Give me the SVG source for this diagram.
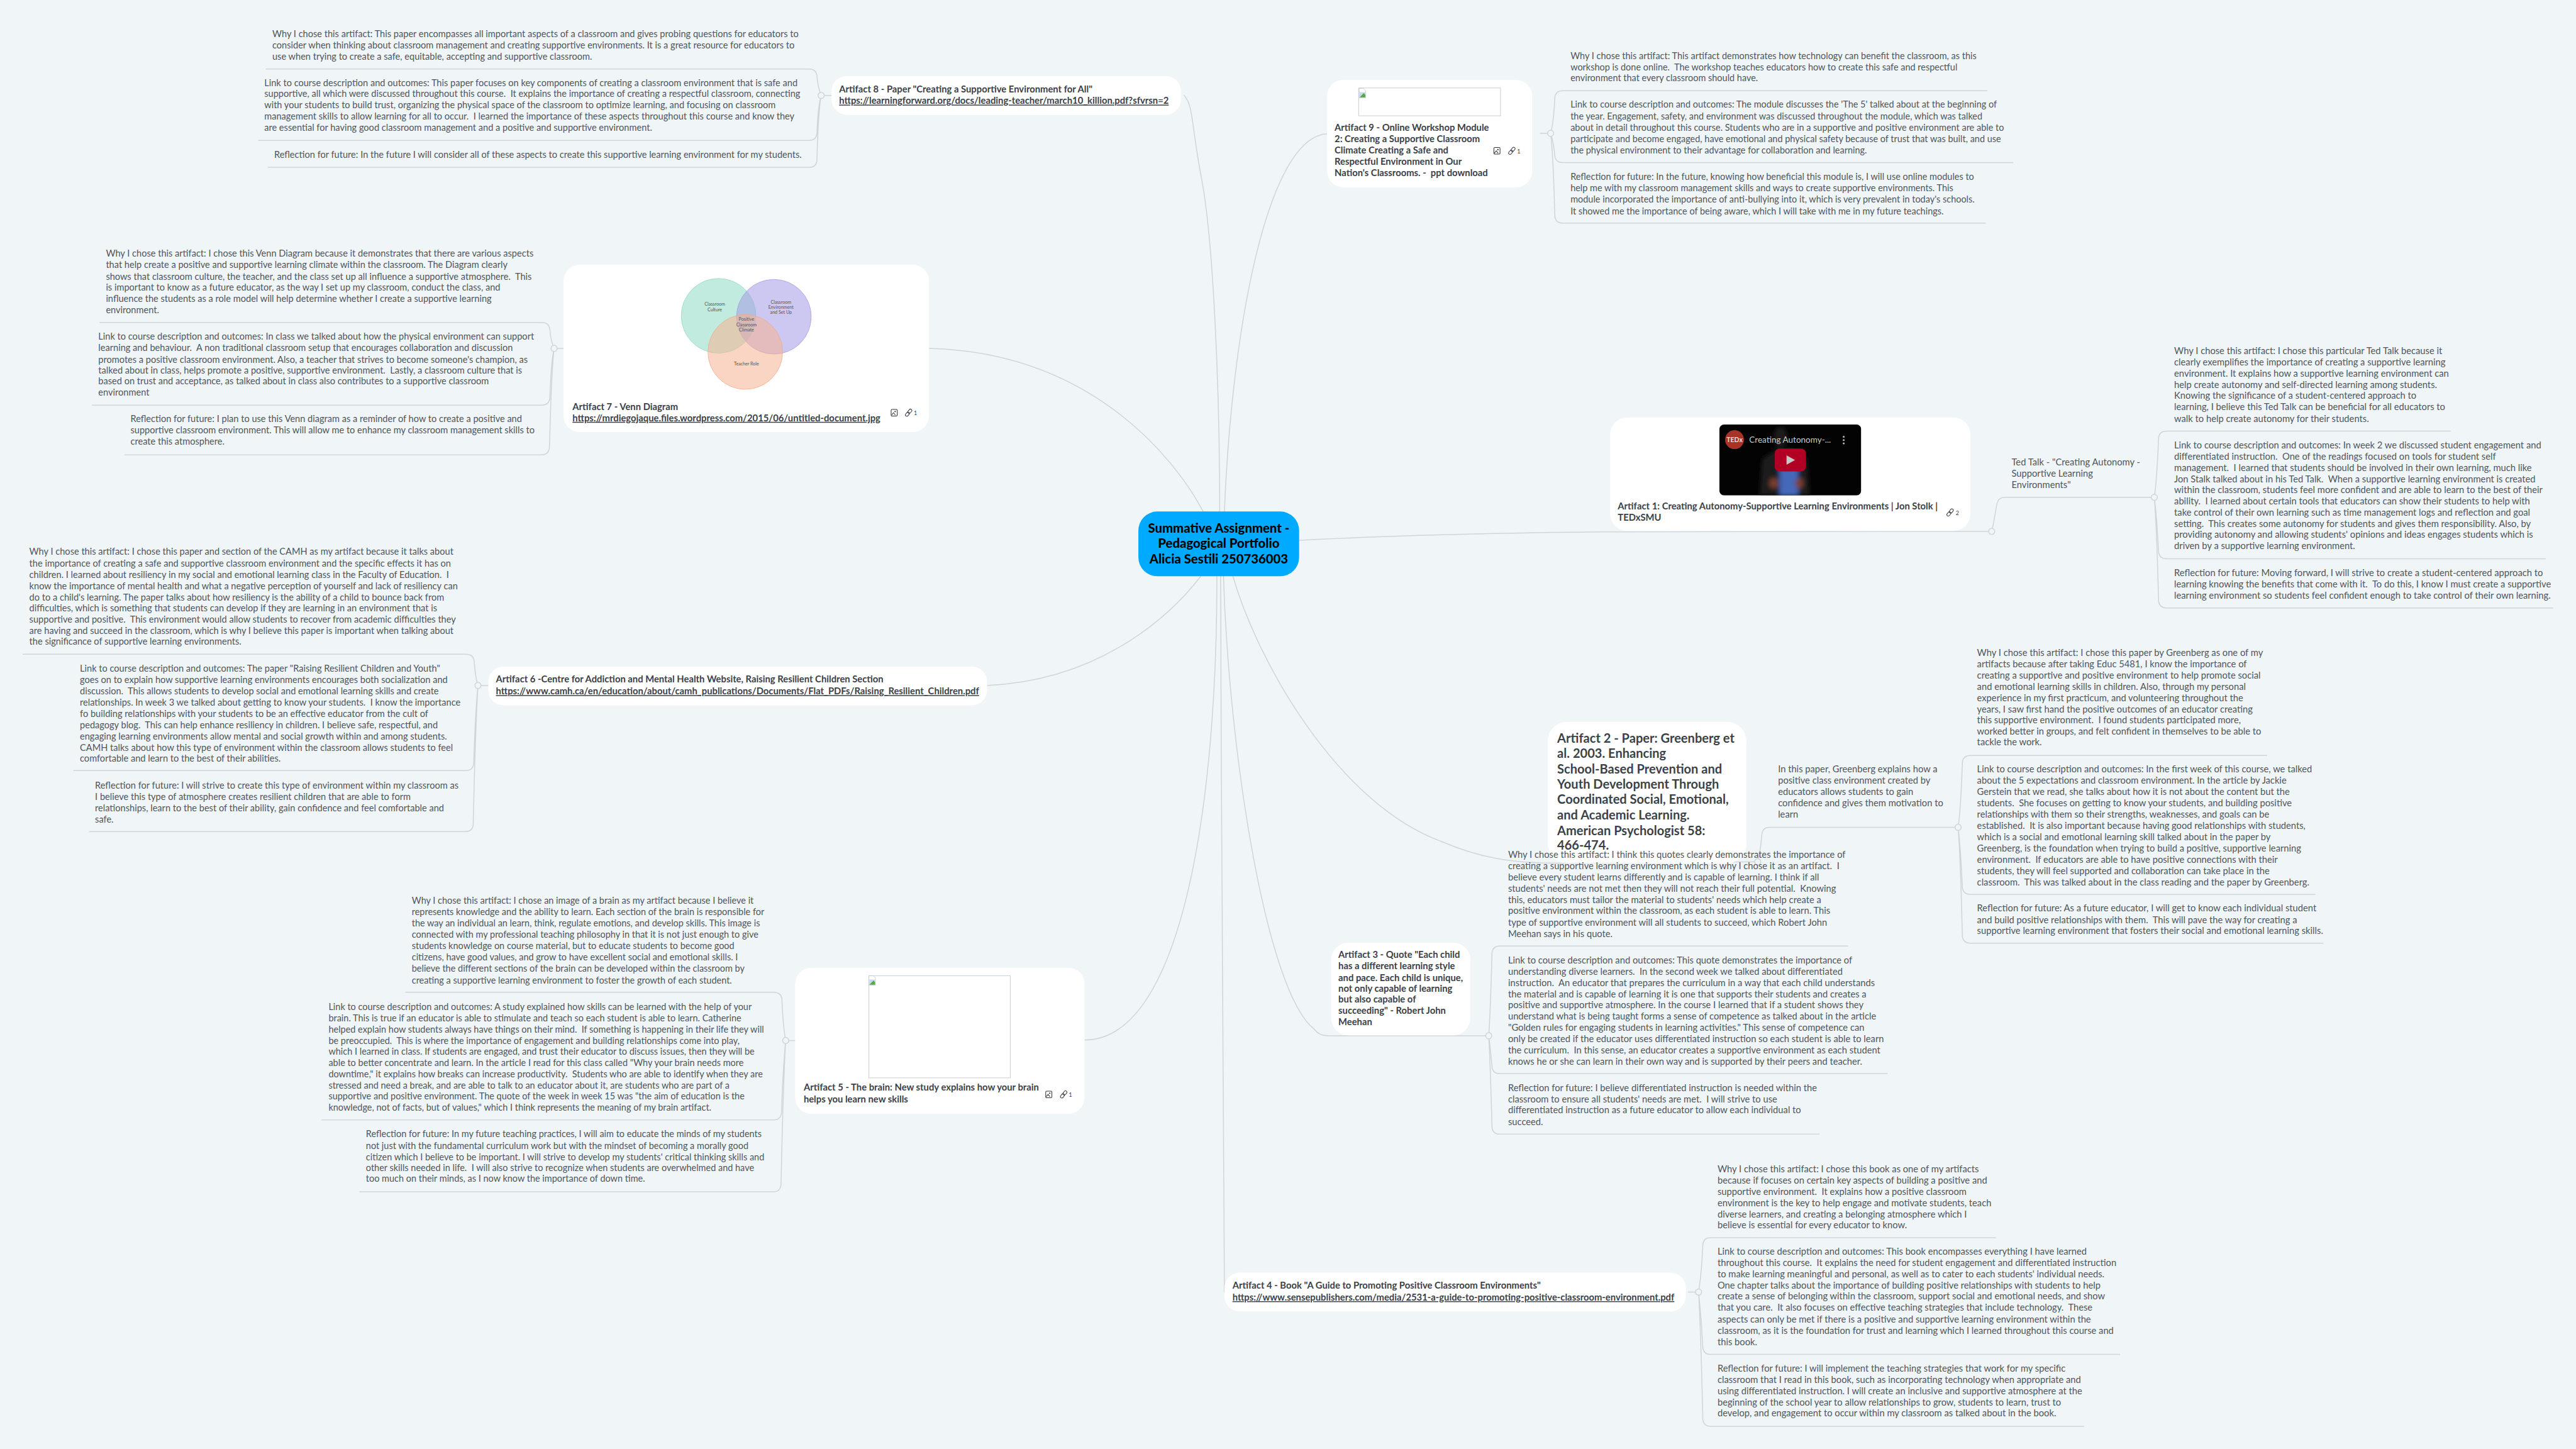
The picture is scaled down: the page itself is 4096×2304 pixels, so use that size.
<svg xmlns="http://www.w3.org/2000/svg" width="4096" height="2304" viewBox="0 0 4096 2304">
<style>
text{font-family:"Lato","Noto Sans","Liberation Sans",sans-serif;white-space:pre}
.t{font-size:19.4px;fill:#4f555b}
[id^=a1-] .t,[id^=a2-] .t,[id^=a3-] .t,[id^=a4-] .t{font-size:19.6px}
[id^=a5-] .t,[id^=a9-] .t{font-size:19.25px}
.b{font-size:19.7px;font-weight:700;fill:#3b4148}
.u{text-decoration:underline}
.big{font-size:26.7px;font-weight:700;fill:#3b4148}
.root{font-size:27px;font-weight:900;fill:#050505;text-anchor:middle}
.cnt{font-size:12px;fill:#3b4148}
.v{font-size:9.5px;fill:#555;text-anchor:middle}
.card{fill:#fff}
.ln{fill:none;stroke:#cfd5d9;stroke-width:2;stroke-linecap:round}
.dot{fill:#f0f5f8;stroke:#cfd5d9;stroke-width:2}
.br{fill:#fff;stroke:#cfd5d9;stroke-width:1.5}
</style>
<defs>
<g id="icimg"><rect x="0" y="0" width="13" height="14" rx="2" fill="none" stroke="#333" stroke-width="1.4"/><circle cx="8.5" cy="4.5" r="1.5" fill="#333"/><path d="M1 12 5 7 9 12" fill="none" stroke="#333" stroke-width="1.4"/></g>
<g id="iclnk"><g transform="rotate(-50)" fill="none" stroke="#333" stroke-width="1.3"><rect x="-9" y="-3" width="10" height="6" rx="3"/><rect x="-1" y="-3" width="10" height="6" rx="3"/></g></g>
<g id="broken"><path d="M0 0H9L14 5V20H0Z" fill="#fff" stroke="#b9bfc6" stroke-width="1"/><path d="M1 8H13V19H1Z" fill="#c5d8f5"/><path d="M1 19 10 10 13 14V19Z" fill="#5aa845"/></g>
<clipPath id="vid"><rect x="3637" y="898" width="300" height="150" rx="10"/></clipPath>
<filter id="soft" x="-30%" y="-30%" width="160%" height="160%"><feGaussianBlur stdDeviation="5"/></filter>
</defs>
<rect width="4096" height="2304" fill="#f0f5f8"/>
<g transform="scale(.7517)">
<g id="connectors">
<path class="ln" d="M2545,1082C2480,960 2300,745 1965,737"/>
<path class="ln" d="M2580,1082C2580,800 2565,500 2542,380S2525,225 2505,202"/>
<path class="ln" d="M2590,1082C2605,700 2680,290 2807,283"/>
<path class="ln" d="M2748,1143C2900,1135 3100,1128 3406,1125L4213,1124"/>
<path class="ln" d="M2608,1219C2660,1400 2830,1700 3049,1780C3130,1815 3200,1826 3300,1826L3718,1823"/>
<path class="ln" d="M2588,1219C2600,1600 2680,2100 2780,2177Q2790,2191 2810,2191L3149,2191"/>
<path class="ln" d="M2582,1219C2584,1800 2586,2500 2590,2733"/>
<path class="ln" d="M2574,1219C2575,1700 2500,2200 2294,2200"/>
<path class="ln" d="M2540,1219C2470,1310 2320,1440 2088,1450"/>
<path class="ln" d="M1737,202H1759M1737,202C1730,185 1729,170 1728,160Q1726,146 1712,146H563M1737,202C1730,225 1729,260 1728,283Q1726,297 1712,297H547M1737,202C1730,240 1729,310 1728,340Q1726,354 1712,354H567"/>
<path class="ln" d="M1172,737H1192M1172,737C1165,722 1164,708 1163,696Q1161,682 1146,682H211M1172,737C1165,770 1164,820 1163,843Q1161,857 1146,857H195M1172,737C1165,800 1164,910 1162,948Q1160,962 1146,962H264"/>
<path class="ln" d="M1011,1450H1033M1011,1450C1005,1430 1004,1412 1003,1398Q1001,1384 986,1384H49M1011,1450C1005,1510 1003,1590 1002,1616Q1000,1630 986,1630H156M1011,1450C1005,1550 1002,1700 1001,1745Q999,1759 985,1759H189"/>
<path class="ln" d="M1662,2201H1682M1662,2201C1656,2170 1655,2140 1654,2113Q1652,2099 1636,2099H858M1662,2201C1656,2260 1654,2330 1653,2355Q1651,2369 1636,2369H681M1662,2201C1656,2300 1653,2470 1652,2507Q1650,2521 1636,2521H761"/>
<path class="ln" d="M3258,282H3280M3280,282C3286,262 3288,225 3289,206Q3291,192 3306,192H4203M3280,282C3286,300 3288,320 3289,330Q3291,344 3306,344H4258M3280,282C3286,330 3288,430 3289,458Q3291,472 3306,472H4200"/>
<path class="ln" d="M4213,1124C4219,1100 4222,1075 4224,1066Q4227,1052 4241,1052H4557M4557,1052C4563,1010 4565,950 4566,926Q4568,912 4583,912H5183M4557,1052C4563,1100 4565,1150 4566,1168Q4568,1182 4583,1182H5384M4557,1052C4563,1130 4565,1240 4566,1272Q4568,1286 4583,1286H5400"/>
<path class="ln" d="M3718,1823C3724,1800 3726,1775 3727,1764Q3729,1750 3743,1750H4142M4142,1750C4148,1710 4150,1640 4151,1612Q4153,1598 4168,1598H4795M4142,1750C4148,1800 4150,1860 4151,1878Q4153,1892 4168,1892H4897M4142,1750C4148,1830 4150,1950 4151,1981Q4153,1995 4168,1995H4914"/>
<path class="ln" d="M3149,2191C3153,2140 3155,2050 3156,2015Q3158,2001 3172,2001H3909M3149,2191C3153,2220 3155,2245 3156,2257Q3158,2271 3172,2271H3992M3149,2191C3153,2260 3155,2350 3156,2385Q3158,2399 3172,2399H3848"/>
<path class="ln" d="M3571,2733H3593M3593,2733C3598,2700 3601,2660 3602,2632Q3604,2618 3618,2618H4221M3593,2733C3598,2780 3601,2830 3602,2851Q3604,2865 3618,2865H4484M3593,2733C3598,2820 3601,2960 3602,3003Q3604,3017 3618,3017H4408"/>
<circle class="dot" cx="1737" cy="202" r="6.5"/><circle class="dot" cx="1172" cy="737" r="6.5"/><circle class="dot" cx="1011" cy="1450" r="6.5"/><circle class="dot" cx="1662" cy="2201" r="6.5"/><circle class="dot" cx="3280" cy="282" r="6.5"/><circle class="dot" cx="4213" cy="1124" r="6.5"/><circle class="dot" cx="4557" cy="1052" r="6.5"/><circle class="dot" cx="3718" cy="1823" r="6.5"/><circle class="dot" cx="4142" cy="1750" r="6.5"/><circle class="dot" cx="3149" cy="2191" r="6.5"/><circle class="dot" cx="3593" cy="2733" r="6.5"/>
</g>
<g id="root"><rect x="2408" y="1082" width="340" height="137" rx="40" fill="#00aaff"/>
<text class="root" x="2578" y="1127">Summative Assignment -</text><text class="root" x="2578" y="1159">Pedagogical Portfolio</text><text class="root" x="2578" y="1192">Alicia Sestili 250736003</text></g>
<g id="a8"><rect class="card" x="1759" y="161" width="739" height="82" rx="32"/>
<text class="b" x="1775" y="195">Artifact 8 - Paper "Creating a Supportive Environment for All"</text>
<text class="b u" x="1775" y="220">https://learningforward.org/docs/leading-teacher/march10_killion.pdf?sfvrsn=2</text></g>
<g id="a8-why">
<text class="t" x="576" y="78">Why I chose this artifact: This paper encompasses all important aspects of a classroom and gives probing questions for educators to</text>
<text class="t" x="576" y="102">consider when thinking about classroom management and creating supportive environments. It is a great resource for educators to</text>
<text class="t" x="576" y="126">use when trying to create a safe, equitable, accepting and supportive classroom.</text></g>
<g id="a8-link">
<text class="t" x="559" y="182">Link to course description and outcomes: This paper focuses on key components of creating a classroom environment that is safe and</text>
<text class="t" x="559" y="205">supportive, all which were discussed throughout this course.  It explains the importance of creating a respectful classroom, connecting</text>
<text class="t" x="559" y="229">with your students to build trust, organizing the physical space of the classroom to optimize learning, and focusing on classroom</text>
<text class="t" x="559" y="253">management skills to allow learning for all to occur.  I learned the importance of these aspects throughout this course and know they</text>
<text class="t" x="559" y="277">are essential for having good classroom management and a positive and supportive environment.</text></g>
<g id="a8-ref"><text class="t" x="580" y="334">Reflection for future: In the future I will consider all of these aspects to create this supportive learning environment for my students.</text></g>
<g id="a7"><rect class="card" x="1192" y="560" width="773" height="354" rx="34"/>
<circle cx="1520" cy="668" r="79" fill="#8ddbc2" fill-opacity=".55" stroke="#8ddbc2"/>
<circle cx="1637" cy="670" r="79" fill="#a49ae6" fill-opacity=".55" stroke="#a49ae6"/>
<circle cx="1576.5" cy="744.5" r="79" fill="#f8b292" fill-opacity=".55" stroke="#f0a888"/>
<text class="v" x="1512" y="647">Classroom</text><text class="v" x="1512" y="658">Culture</text>
<text class="v" x="1652" y="642">Classroom</text><text class="v" x="1652" y="653">Environment</text><text class="v" x="1652" y="664">and Set Up</text>
<text class="v" x="1579" y="679">Positive</text><text class="v" x="1579" y="690">Classroom</text><text class="v" x="1579" y="701">Climate</text>
<text class="v" x="1579" y="773">Teacher Role</text>
<text class="b" x="1211" y="867">Artifact 7 - Venn Diagram</text>
<text class="b u" x="1211" y="891">https://mrdiegojaque.files.wordpress.com/2015/06/untitled-document.jpg</text>
<use href="#icimg" x="1885" y="866"/><use href="#iclnk" x="1922" y="873"/><text class="cnt" x="1933" y="878">1</text></g>
<g id="a7-why">
<text class="t" x="224" y="543">Why I chose this artifact: I chose this Venn Diagram because it demonstrates that there are various aspects</text>
<text class="t" x="224" y="567">that help create a positive and supportive learning climate within the classroom. The Diagram clearly</text>
<text class="t" x="224" y="592">shows that classroom culture, the teacher, and the class set up all influence a supportive atmosphere.  This</text>
<text class="t" x="224" y="615">is important to know as a future educator, as the way I set up my classroom, conduct the class, and</text>
<text class="t" x="224" y="638">influence the students as a role model will help determine whether I create a supportive learning</text>
<text class="t" x="224" y="662">environment.</text></g>
<g id="a7-link">
<text class="t" x="208" y="718">Link to course description and outcomes: In class we talked about how the physical environment can support</text>
<text class="t" x="208" y="742">learning and behaviour.  A non traditional classroom setup that encourages collaboration and discussion</text>
<text class="t" x="208" y="767">promotes a positive classroom environment. Also, a teacher that strives to become someone's champion, as</text>
<text class="t" x="208" y="790">talked about in class, helps promote a positive, supportive environment.  Lastly, a classroom culture that is</text>
<text class="t" x="208" y="813">based on trust and acceptance, as talked about in class also contributes to a supportive classroom</text>
<text class="t" x="208" y="837">environment</text></g>
<g id="a7-ref">
<text class="t" x="276" y="893">Reflection for future: I plan to use this Venn diagram as a reminder of how to create a positive and</text>
<text class="t" x="276" y="917">supportive classroom environment. This will allow me to enhance my classroom management skills to</text>
<text class="t" x="276" y="941">create this atmosphere.</text></g>
<g id="a6"><rect class="card" x="1033" y="1410" width="1055" height="82" rx="32"/>
<text class="b" x="1049" y="1444">Artifact 6 -Centre for Addiction and Mental Health Website, Raising Resilient Children Section</text>
<text class="b u" x="1049" y="1469">https://www.camh.ca/en/education/about/camh_publications/Documents/Flat_PDFs/Raising_Resilient_Children.pdf</text></g>
<g id="a6-why">
<text class="t" x="62" y="1174">Why I chose this artifact: I chose this paper and section of the CAMH as my artifact because it talks about</text>
<text class="t" x="62" y="1198">the importance of creating a safe and supportive classroom environment and the specific effects it has on</text>
<text class="t" x="62" y="1222">children. I learned about resiliency in my social and emotional learning class in the Faculty of Education.  I</text>
<text class="t" x="62" y="1246">know the importance of mental health and what a negative perception of yourself and lack of resiliency can</text>
<text class="t" x="62" y="1270">do to a child's learning. The paper talks about how resiliency is the ability of a child to bounce back from</text>
<text class="t" x="62" y="1293">difficulties, which is something that students can develop if they are learning in an environment that is</text>
<text class="t" x="62" y="1317">supportive and positive.  This environment would allow students to recover from academic difficulties they</text>
<text class="t" x="62" y="1341">are having and succeed in the classroom, which is why I believe this paper is important when talking about</text>
<text class="t" x="62" y="1364">the significance of supportive learning environments.</text></g>
<g id="a6-link">
<text class="t" x="169" y="1421">Link to course description and outcomes: The paper "Raising Resilient Children and Youth"</text>
<text class="t" x="169" y="1445">goes on to explain how supportive learning environments encourages both socialization and</text>
<text class="t" x="169" y="1469">discussion.  This allows students to develop social and emotional learning skills and create</text>
<text class="t" x="169" y="1493">relationships. In week 3 we talked about getting to know your students.  I know the importance</text>
<text class="t" x="169" y="1516">fo building relationships with your students to be an effective educator from the cult of</text>
<text class="t" x="169" y="1540">pedagogy blog.  This can help enhance resiliency in children. I believe safe, respectful, and</text>
<text class="t" x="169" y="1564">engaging learning environments allow mental and social growth within and among students.</text>
<text class="t" x="169" y="1588">CAMH talks about how this type of environment within the classroom allows students to feel</text>
<text class="t" x="169" y="1611">comfortable and learn to the best of their abilities.</text></g>
<g id="a6-ref">
<text class="t" x="201" y="1668">Reflection for future: I will strive to create this type of environment within my classroom as</text>
<text class="t" x="201" y="1692">I believe this type of atmosphere creates resilient children that are able to form</text>
<text class="t" x="201" y="1716">relationships, learn to the best of their ability, gain confidence and feel comfortable and</text>
<text class="t" x="201" y="1740">safe.</text></g>
<g id="a5"><rect class="card" x="1682" y="2047" width="612" height="309" rx="34"/>
<rect x="1838" y="2064" width="299" height="216" fill="#fff" stroke="#cfd2d6" stroke-width="1.5"/><use href="#broken" x="1838" y="2064"/>
<text class="b" x="1700" y="2307">Artifact 5 - The brain: New study explains how your brain</text>
<text class="b" x="1700" y="2332">helps you learn new skills</text>
<use href="#icimg" x="2212" y="2308"/><use href="#iclnk" x="2250" y="2315"/><text class="cnt" x="2261" y="2320">1</text></g>
<g id="a5-why">
<text class="t" x="871" y="1912">Why I chose this artifact: I chose an image of a brain as my artifact because I believe it</text>
<text class="t" x="871" y="1936">represents knowledge and the ability to learn. Each section of the brain is responsible for</text>
<text class="t" x="871" y="1960">the way an individual an learn, think, regulate emotions, and develop skills. This image is</text>
<text class="t" x="871" y="1984">connected with my professional teaching philosophy in that it is not just enough to give</text>
<text class="t" x="871" y="2008">students knowledge on course material, but to educate students to become good</text>
<text class="t" x="871" y="2032">citizens, have good values, and grow to have excellent social and emotional skills. I</text>
<text class="t" x="871" y="2056">believe the different sections of the brain can be developed within the classroom by</text>
<text class="t" x="871" y="2080">creating a supportive learning environment to foster the growth of each student.</text></g>
<g id="a5-link">
<text class="t" x="695" y="2136">Link to course description and outcomes: A study explained how skills can be learned with the help of your</text>
<text class="t" x="695" y="2160">brain. This is true if an educator is able to stimulate and teach so each student is able to learn. Catherine</text>
<text class="t" x="695" y="2184">helped explain how students always have things on their mind.  If something is happening in their life they will</text>
<text class="t" x="695" y="2208">be preoccupied.  This is where the importance of engagement and building relationships come into play,</text>
<text class="t" x="695" y="2231">which I learned in class. If students are engaged, and trust their educator to discuss issues, then they will be</text>
<text class="t" x="695" y="2255">able to better concentrate and learn. In the article I read for this class called "Why your brain needs more</text>
<text class="t" x="695" y="2279">downtime," it explains how breaks can increase productivity.  Students who are able to identify when they are</text>
<text class="t" x="695" y="2303">stressed and need a break, and are able to talk to an educator about it, are students who are part of a</text>
<text class="t" x="695" y="2326">supportive and positive environment. The quote of the week in week 15 was "the aim of education is the</text>
<text class="t" x="695" y="2350">knowledge, not of facts, but of values," which I think represents the meaning of my brain artifact.</text></g>
<g id="a5-ref">
<text class="t" x="774" y="2405">Reflection for future: In my future teaching practices, I will aim to educate the minds of my students</text>
<text class="t" x="774" y="2430">not just with the fundamental curriculum work but with the mindset of becoming a morally good</text>
<text class="t" x="774" y="2454">citizen which I believe to be important. I will strive to develop my students' critical thinking skills and</text>
<text class="t" x="774" y="2477">other skills needed in life.  I will also strive to recognize when students are overwhelmed and have</text>
<text class="t" x="774" y="2500">too much on their minds, as I now know the importance of down time.</text></g>
<g id="a9"><rect class="card" x="2807" y="169" width="434" height="227" rx="34"/>
<rect x="2874" y="186" width="300" height="59" fill="#fff" stroke="#cfd2d6" stroke-width="1.5"/><use href="#broken" x="2875" y="187"/>
<text class="b" x="2823" y="277">Artifact 9 - Online Workshop Module</text>
<text class="b" x="2823" y="301">2: Creating a Supportive Classroom</text>
<text class="b" x="2823" y="324">Climate Creating a Safe and</text>
<text class="b" x="2823" y="348">Respectful Environment in Our</text>
<text class="b" x="2823" y="372">Nation's Classrooms. -  ppt download</text>
<use href="#icimg" x="3160" y="312"/><use href="#iclnk" x="3198" y="319"/><text class="cnt" x="3209" y="324">1</text></g>
<g id="a9-why">
<text class="t" x="3322" y="125">Why I chose this artifact: This artifact demonstrates how technology can benefit the classroom, as this</text>
<text class="t" x="3322" y="149">workshop is done online.  The workshop teaches educators how to create this safe and respectful</text>
<text class="t" x="3322" y="172">environment that every classroom should have.</text></g>
<g id="a9-link">
<text class="t" x="3322" y="228">Link to course description and outcomes: The module discusses the 'The 5' talked about at the beginning of</text>
<text class="t" x="3322" y="253">the year. Engagement, safety, and environment was discussed throughout the module, which was talked</text>
<text class="t" x="3322" y="277">about in detail throughout this course. Students who are in a supportive and positive environment are able to</text>
<text class="t" x="3322" y="301">participate and become engaged, have emotional and physical safety because of trust that was built, and use</text>
<text class="t" x="3322" y="324">the physical environment to their advantage for collaboration and learning.</text></g>
<g id="a9-ref">
<text class="t" x="3322" y="381">Reflection for future: In the future, knowing how beneficial this module is, I will use online modules to</text>
<text class="t" x="3322" y="405">help me with my classroom management skills and ways to create supportive environments. This</text>
<text class="t" x="3322" y="429">module incorporated the importance of anti-bullying into it, which is very prevalent in today's schools.</text>
<text class="t" x="3322" y="453">It showed me the importance of being aware, which I will take with me in my future teachings.</text></g>
<g id="a1"><rect class="card" x="3406" y="883" width="762" height="240" rx="36"/>
<g clip-path="url(#vid)"><rect x="3637" y="898" width="300" height="150" fill="#030303"/>
<g filter="url(#soft)"><ellipse cx="3766" cy="925" rx="14" ry="22" fill="#1c1c1c"/><path d="M3722 1048 3728 970 3760 950H3790L3822 970 3828 1048Z" fill="#1e1e1e"/><rect x="3764" y="990" width="40" height="60" fill="#4468b8"/><ellipse cx="3752" cy="1022" rx="9" ry="11" fill="#7a4030"/><ellipse cx="3806" cy="1022" rx="9" ry="11" fill="#7a4030"/></g>
<circle cx="3669" cy="930" r="20" fill="#a83226"/><text x="3652" y="935" font-size="14" font-weight="700" fill="#eadcd8">TEDx</text>
<text x="3700" y="937" font-size="18" fill="#c9c9c9">Creating Autonomy-...</text>
<circle cx="3900" cy="924" r="2" fill="#bbb"/><circle cx="3900" cy="931" r="2" fill="#bbb"/><circle cx="3900" cy="938" r="2" fill="#bbb"/>
<rect x="3754" y="949" width="66" height="48" rx="10" fill="#b20024"/><path d="M3779 963 3797 973 3779 983Z" fill="#c8c8c8"/></g>
<text class="b" x="3422" y="1077">Artifact 1: Creating Autonomy-Supportive Learning Environments | Jon Stolk |</text>
<text class="b" x="3422" y="1101">TEDxSMU</text>
<use href="#iclnk" x="4125" y="1084"/><text class="cnt" x="4137" y="1089">2</text></g>
<g id="a1-ted">
<text class="t" x="4255" y="984">Ted Talk - "Creating Autonomy -</text>
<text class="t" x="4255" y="1008">Supportive Learning</text>
<text class="t" x="4255" y="1032">Environments"</text></g>
<g id="a1-why">
<text class="t" x="4599" y="749">Why I chose this artifact: I chose this particular Ted Talk because it</text>
<text class="t" x="4599" y="773">clearly exemplifies the importance of creating a supportive learning</text>
<text class="t" x="4599" y="797">environment. It explains how a supportive learning environment can</text>
<text class="t" x="4599" y="821">help create autonomy and self-directed learning among students.</text>
<text class="t" x="4599" y="844">Knowing the significance of a student-centered approach to</text>
<text class="t" x="4599" y="868">learning, I believe this Ted Talk can be beneficial for all educators to</text>
<text class="t" x="4599" y="892">walk to help create autonomy for their students.</text></g>
<g id="a1-link">
<text class="t" x="4599" y="948">Link to course description and outcomes: In week 2 we discussed student engagement and</text>
<text class="t" x="4599" y="972">differentiated instruction.  One of the readings focused on tools for student self</text>
<text class="t" x="4599" y="996">management.  I learned that students should be involved in their own learning, much like</text>
<text class="t" x="4599" y="1020">Jon Stalk talked about in his Ted Talk.  When a supportive learning environment is created</text>
<text class="t" x="4599" y="1043">within the classroom, students feel more confident and are able to learn to the best of their</text>
<text class="t" x="4599" y="1067">ability.  I learned about certain tools that educators can show their students to help with</text>
<text class="t" x="4599" y="1091">take control of their own learning such as time management logs and reflection and goal</text>
<text class="t" x="4599" y="1115">setting.  This creates some autonomy for students and gives them responsibility. Also, by</text>
<text class="t" x="4599" y="1138">providing autonomy and allowing students' opinions and ideas engages students which is</text>
<text class="t" x="4599" y="1162">driven by a supportive learning environment.</text></g>
<g id="a1-ref">
<text class="t" x="4599" y="1218">Reflection for future: Moving forward, I will strive to create a student-centered approach to</text>
<text class="t" x="4599" y="1242">learning knowing the benefits that come with it.  To do this, I know I must create a supportive</text>
<text class="t" x="4599" y="1266">learning environment so students feel confident enough to take control of their own learning.</text></g>
<g id="a2"><rect class="card" x="3274" y="1527" width="420" height="299" rx="40"/>
<text class="big" x="3294" y="1571">Artifact 2 - Paper: Greenberg et</text>
<text class="big" x="3294" y="1603">al. 2003. Enhancing</text>
<text class="big" x="3294" y="1636">School-Based Prevention and</text>
<text class="big" x="3294" y="1668">Youth Development Through</text>
<text class="big" x="3294" y="1700">Coordinated Social, Emotional,</text>
<text class="big" x="3294" y="1733">and Academic Learning.</text>
<text class="big" x="3294" y="1766">American Psychologist 58:</text>
<text class="big" x="3294" y="1797">466-474.</text></g>
<g id="a2-in">
<text class="t" x="3761" y="1634">In this paper, Greenberg explains how a</text>
<text class="t" x="3761" y="1658">positive class environment created by</text>
<text class="t" x="3761" y="1682">educators allows students to gain</text>
<text class="t" x="3761" y="1706">confidence and gives them motivation to</text>
<text class="t" x="3761" y="1730">learn</text></g>
<g id="a2-why">
<text class="t" x="4182" y="1388">Why I chose this artifact: I chose this paper by Greenberg as one of my</text>
<text class="t" x="4182" y="1412">artifacts because after taking Educ 5481, I know the importance of</text>
<text class="t" x="4182" y="1435">creating a supportive and positive environment to help promote social</text>
<text class="t" x="4182" y="1459">and emotional learning skills in children. Also, through my personal</text>
<text class="t" x="4182" y="1483">experience in my first practicum, and volunteering throughout the</text>
<text class="t" x="4182" y="1507">years, I saw first hand the positive outcomes of an educator creating</text>
<text class="t" x="4182" y="1530">this supportive environment.  I found students participated more,</text>
<text class="t" x="4182" y="1554">worked better in groups, and felt confident in themselves to be able to</text>
<text class="t" x="4182" y="1577">tackle the work.</text></g>
<g id="a2-link">
<text class="t" x="4182" y="1634">Link to course description and outcomes: In the first week of this course, we talked</text>
<text class="t" x="4182" y="1658">about the 5 expectations and classroom environment. In the article by Jackie</text>
<text class="t" x="4182" y="1682">Gerstein that we read, she talks about how it is not about the content but the</text>
<text class="t" x="4182" y="1706">students.  She focuses on getting to know your students, and building positive</text>
<text class="t" x="4182" y="1730">relationships with them so their strengths, weaknesses, and goals can be</text>
<text class="t" x="4182" y="1753">established.  It is also important because having good relationships with students,</text>
<text class="t" x="4182" y="1777">which is a social and emotional learning skill talked about in the paper by</text>
<text class="t" x="4182" y="1801">Greenberg, is the foundation when trying to build a positive, supportive learning</text>
<text class="t" x="4182" y="1825">environment.  If educators are able to have positive connections with their</text>
<text class="t" x="4182" y="1849">students, they will feel supported and collaboration can take place in the</text>
<text class="t" x="4182" y="1873">classroom.  This was talked about in the class reading and the paper by Greenberg.</text></g>
<g id="a2-ref">
<text class="t" x="4182" y="1928">Reflection for future: As a future educator, I will get to know each individual student</text>
<text class="t" x="4182" y="1953">and build positive relationships with them.  This will pave the way for creating a</text>
<text class="t" x="4182" y="1976">supportive learning environment that fosters their social and emotional learning skills.</text></g>
<g id="a3"><rect class="card" x="2816" y="1994" width="294" height="196" rx="36"/>
<text class="b" x="2831" y="2026">Artifact 3 - Quote "Each child</text>
<text class="b" x="2831" y="2050">has a different learning style</text>
<text class="b" x="2831" y="2075">and pace. Each child is unique,</text>
<text class="b" x="2831" y="2098">not only capable of learning</text>
<text class="b" x="2831" y="2121">but also capable of</text>
<text class="b" x="2831" y="2145">succeeding" - Robert John</text>
<text class="b" x="2831" y="2168">Meehan</text></g>
<g id="a3-why">
<text class="t" x="3190" y="1815">Why I chose this artifact: I think this quotes clearly demonstrates the importance of</text>
<text class="t" x="3190" y="1839">creating a supportive learning environment which is why I chose it as an artifact.  I</text>
<text class="t" x="3190" y="1863">believe every student learns differently and is capable of learning. I think if all</text>
<text class="t" x="3190" y="1887">students' needs are not met then they will not reach their full potential.  Knowing</text>
<text class="t" x="3190" y="1910">this, educators must tailor the material to students' needs which help create a</text>
<text class="t" x="3190" y="1933">positive environment within the classroom, as each student is able to learn. This</text>
<text class="t" x="3190" y="1958">type of supportive environment will all students to succeed, which Robert John</text>
<text class="t" x="3190" y="1982">Meehan says in his quote.</text></g>
<g id="a3-link">
<text class="t" x="3190" y="2038">Link to course description and outcomes: This quote demonstrates the importance of</text>
<text class="t" x="3190" y="2062">understanding diverse learners.  In the second week we talked about differentiated</text>
<text class="t" x="3190" y="2086">instruction.  An educator that prepares the curriculum in a way that each child understands</text>
<text class="t" x="3190" y="2110">the material and is capable of learning it is one that supports their students and creates a</text>
<text class="t" x="3190" y="2133">positive and supportive atmosphere. In the course I learned that if a student shows they</text>
<text class="t" x="3190" y="2157">understand what is being taught forms a sense of competence as talked about in the article</text>
<text class="t" x="3190" y="2181">"Golden rules for engaging students in learning activities." This sense of competence can</text>
<text class="t" x="3190" y="2205">only be created if the educator uses differentiated instruction so each student is able to learn</text>
<text class="t" x="3190" y="2228">the curriculum.  In this sense, an educator creates a supportive environment as each student</text>
<text class="t" x="3190" y="2252">knows he or she can learn in their own way and is supported by their peers and teacher.</text></g>
<g id="a3-ref">
<text class="t" x="3190" y="2308">Reflection for future: I believe differentiated instruction is needed within the</text>
<text class="t" x="3190" y="2332">classroom to ensure all students' needs are met.  I will strive to use</text>
<text class="t" x="3190" y="2355">differentiated instruction as a future educator to allow each individual to</text>
<text class="t" x="3190" y="2380">succeed.</text></g>
<g id="a4"><rect class="card" x="2590" y="2692" width="976" height="82" rx="32"/>
<text class="b" x="2607" y="2726">Artifact 4 - Book "A Guide to Promoting Positive Classroom Environments"</text>
<text class="b u" x="2607" y="2751">https://www.sensepublishers.com/media/2531-a-guide-to-promoting-positive-classroom-environment.pdf</text></g>
<g id="a4-why">
<text class="t" x="3633" y="2480">Why I chose this artifact: I chose this book as one of my artifacts</text>
<text class="t" x="3633" y="2503">because if focuses on certain key aspects of building a positive and</text>
<text class="t" x="3633" y="2527">supportive environment.  It explains how a positive classroom</text>
<text class="t" x="3633" y="2551">environment is the key to help engage and motivate students, teach</text>
<text class="t" x="3633" y="2575">diverse learners, and creating a belonging atmosphere which I</text>
<text class="t" x="3633" y="2598">believe is essential for every educator to know.</text></g>
<g id="a4-link">
<text class="t" x="3633" y="2654">Link to course description and outcomes: This book encompasses everything I have learned</text>
<text class="t" x="3633" y="2678">throughout this course.  It explains the need for student engagement and differentiated instruction</text>
<text class="t" x="3633" y="2702">to make learning meaningful and personal, as well as to cater to each students' individual needs.</text>
<text class="t" x="3633" y="2726">One chapter talks about the importance of building positive relationships with students to help</text>
<text class="t" x="3633" y="2749">create a sense of belonging within the classroom, support social and emotional needs, and show</text>
<text class="t" x="3633" y="2773">that you care.  It also focuses on effective teaching strategies that include technology.  These</text>
<text class="t" x="3633" y="2797">aspects can only be met if there is a positive and supportive learning environment within the</text>
<text class="t" x="3633" y="2821">classroom, as it is the foundation for trust and learning which I learned throughout this course and</text>
<text class="t" x="3633" y="2845">this book.</text></g>
<g id="a4-ref">
<text class="t" x="3633" y="2901">Reflection for future: I will implement the teaching strategies that work for my specific</text>
<text class="t" x="3633" y="2925">classroom that I read in this book, such as incorporating technology when appropriate and</text>
<text class="t" x="3633" y="2949">using differentiated instruction. I will create an inclusive and supportive atmosphere at the</text>
<text class="t" x="3633" y="2973">beginning of the school year to allow relationships to grow, students to learn, trust to</text>
<text class="t" x="3633" y="2996">develop, and engagement to occur within my classroom as talked about in the book.</text></g>
</g>
</svg>
